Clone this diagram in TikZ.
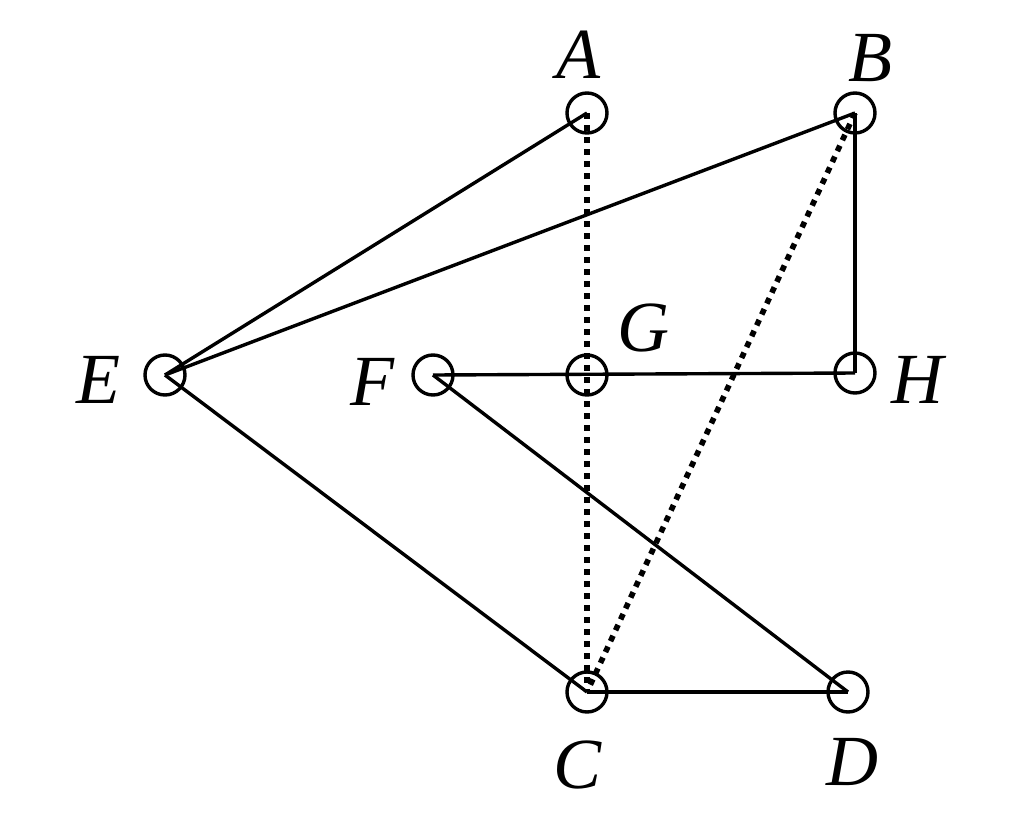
\documentclass[tikz,border=0pt]{standalone}
\usepackage{fontspec}
\setmainfont{Liberation Serif}
\tikzset{
	pt/.style={draw, circle, line width=1.7pt, minimum size=20pt, inner sep=0pt},
	lbl/.style={font=\fontsize{36}{40}\selectfont\itshape, inner sep=0pt},
	solid edge/.style={line width=1.7pt},
	dot edge/.style={line width=2.8pt, dash pattern=on 3pt off 3pt}
}
\begin{document}
\begin{tikzpicture}[x=0.5pt, y=-0.5pt]
	\useasboundingbox (0, 0) rectangle (1024, 825);
	\node[pt] (A) at (587, 113) {};
	\node[pt] (B) at (855, 113) {};
	\node[pt] (E) at (165, 375) {};
	\node[pt] (F) at (433, 375) {};
	\node[pt] (G) at (587, 375) {};
	\node[pt] (H) at (855, 373) {};
	\node[pt] (C) at (587, 692) {};
	\node[pt] (D) at (848, 692) {};
	\node[lbl] (lA) at (578, 55) {A};
	\node[lbl] (lB) at (870, 58) {B};
	\node[lbl] (lE) at (98, 380) {E};
	\node[lbl] (lF) at (372, 382) {F};
	\node[lbl] (lG) at (643, 328) {G};
	\node[lbl] (lH) at (917, 380) {H};
	\node[lbl] (lC) at (578, 765) {C};
	\node[lbl] (lD) at (852, 762) {D};
	\draw[solid edge] (E.center) -- (A.center);
	\draw[solid edge] (E.center) -- (B.center);
	\draw[solid edge] (E.center) -- (C.center);
	\draw[solid edge] (F.center) -- (H.center);
	\draw[solid edge] (F.center) -- (D.center);
	\draw[solid edge] (B.center) -- (H.center);
	\draw[solid edge] (C.center) -- (D.center);
	\draw[dot edge] (A.center) -- (C.center);
	\draw[dot edge] (B.center) -- (C.center);
\end{tikzpicture}
\end{document}
